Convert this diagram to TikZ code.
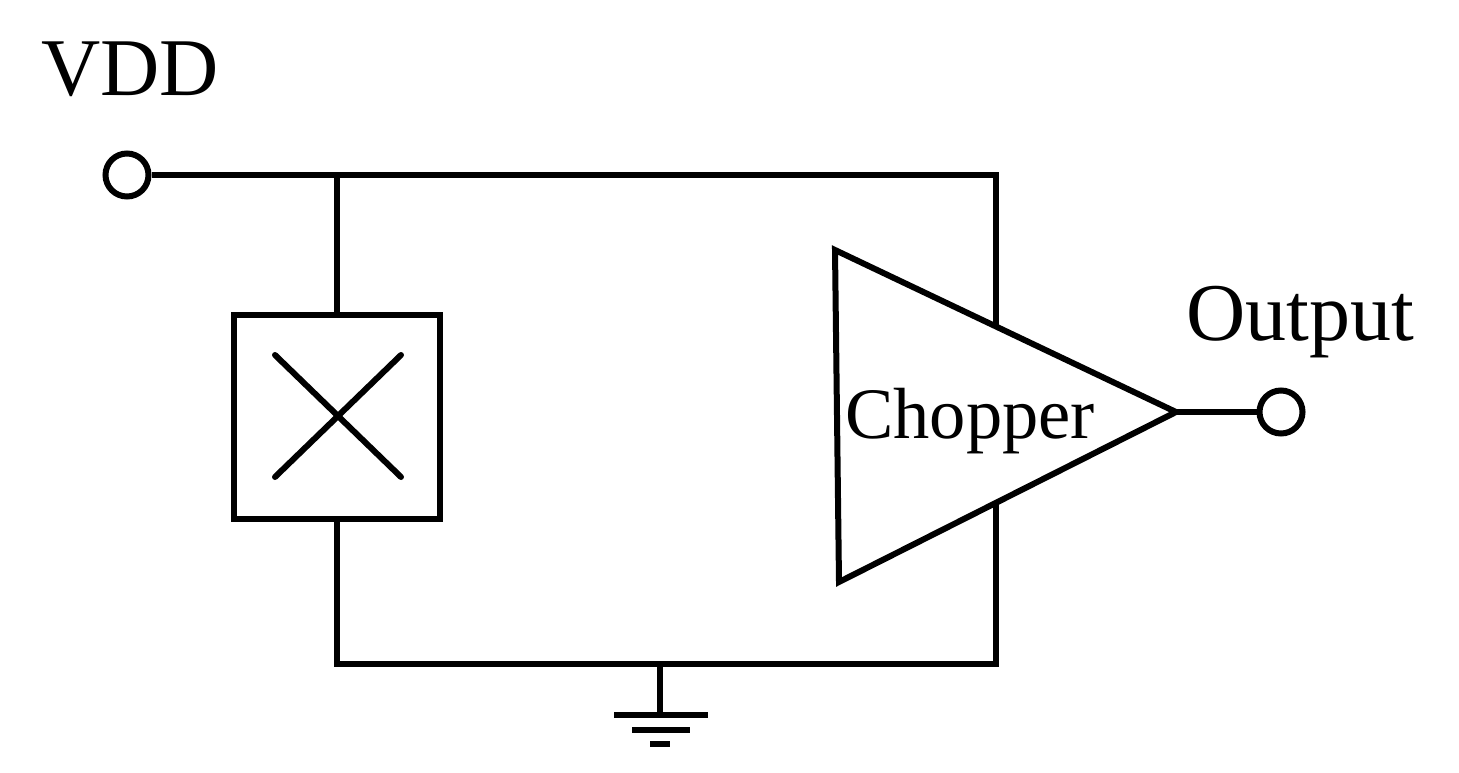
\documentclass[tikz,border=0pt]{standalone}
\usepackage{fontspec}
\setmainfont{Liberation Serif}

\begin{document}
\begin{tikzpicture} [x=1pt, y=-1pt, line width=6pt]
    \tikzstyle{every node}=[align = center, inner sep=0pt]
    \tikzstyle{terminal} = [draw, circle, minimum size=43pt, fill=white]
    \tikzstyle{bigtext} = [font=\fontsize{82}{82}\selectfont, anchor=base]
    \useasboundingbox (0,0) rectangle (1459,773);
    % terminals
    \node[terminal] (vdd) at (127,175) {};
    \node[terminal] (out) at (1281,412) {};
    \node[bigtext] (vddlabel) at (130,96) {VDD};
    \node[bigtext] (outlabel) at (1300,340) {Output};
    % sensor box
    \node[draw, minimum width=206pt, minimum height=204pt] (box) at (337,417) {};
    \coordinate (xa) at (275,355);
    \coordinate (xb) at (401,355);
    \coordinate (xc) at (275,477);
    \coordinate (xd) at (401,477);
    \draw[line cap=round] (xa) -- (xd);
    \draw[line cap=round] (xb) -- (xc);
    % chopper
    \coordinate (tria) at (835,250);
    \coordinate (trib) at (839,582);
    \coordinate (tric) at (1176,412);
    \draw[miter limit=10] (tria) -- (tric) -- (trib) -- cycle;
    \node[font=\fontsize{72.5}{72.5}\selectfont, anchor=base] (chopper) at (970,438) {Chopper};
    % rails
    \coordinate (topnode) at (337,175);
    \coordinate (topright) at (996,175);
    \coordinate (tritop) at (996,326);
    \coordinate (botleft) at (337,664);
    \coordinate (botright) at (996,664);
    \coordinate (tribot) at (996,502);
    \coordinate (gndtop) at (660,664);
    \coordinate (gnd) at (660,715);
    \draw (vdd) -- (topnode) -- (topright) -- (tritop);
    \draw (topnode) -- (box);
    \draw (box) -- (botleft) -- (botright) -- (tribot);
    \draw (tric) -- (out);
    % ground
    \draw (gndtop) -- (gnd);
    \draw (614,715) -- (708,715);
    \draw (632,730) -- (690,730);
    \draw (650,744) -- (670,744);
\end{tikzpicture}
\end{document}
